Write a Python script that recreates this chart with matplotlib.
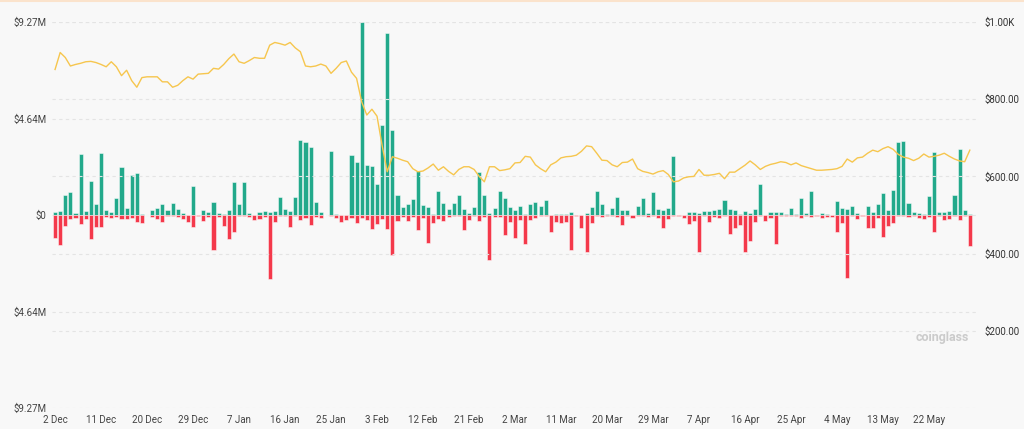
import matplotlib.pyplot as plt
import matplotlib.patches as mpatches
import matplotlib.lines as mlines
import numpy as np
import pandas as pd

plt.rcParams['font.family'] = ['Roboto', 'DejaVu Sans']

# Données (liquidations en M$, prix en $)
dates = pd.date_range('2024-12-02', periods=180, freq='D')

longs = [0.13, 0.19, 0.96, 1.09, 0.08, 2.91, 0.19, 1.63, 0.54, 2.98,
         0.22, 0.13, 0.83, 2.30, 0.32, 1.94, 2.02, 0.03, 0.02, 0.22,
         0.35, 0.51, 0.22, 0.58, 0.29, 0.10, 0.00, 1.38, 0.00, 0.22,
         0.13, 0.61, 0.10, 0.03, 0.26, 1.60, 0.51, 1.57, 0.10, 0.00,
         0.16, 0.19, 0.13, 0.19, 0.86, 0.29, 0.21, 0.88, 3.60, 3.50,
         3.25, 0.64, 0.14, 0.02, 3.09, 0.03, 0.00, 0.00, 2.88, 2.53,
         9.27, 2.42, 2.37, 1.49, 4.30, 8.72, 4.08, 0.96, 0.40, 0.53,
         0.78, 2.10, 0.46, 0.40, 0.05, 1.14, 0.56, 0.27, 0.59, 0.98,
         0.27, 0.08, 0.37, 2.06, 0.94, 0.11, 0.35, 1.17, 0.82, 0.40,
         0.26, 0.42, 0.03, 0.51, 0.64, 0.45, 0.70, 0.02, 0.06, 0.06,
         0.06, 0.13, 0.00, 0.00, 0.10, 0.38, 1.15, 0.54, 0.06, 0.32,
         0.86, 0.22, 0.22, 0.00, 0.45, 0.80, 0.10, 1.09, 0.29, 0.22,
         0.32, 2.82, 0.00, 0.00, 0.16, 0.13, 0.10, 0.19, 0.19, 0.26,
         0.29, 0.70, 0.29, 0.22, 0.03, 0.19, 0.10, 0.29, 1.47, 0.00,
         0.16, 0.13, 0.16, 0.03, 0.32, 0.03, 0.83, 0.10, 1.15, 0.00,
         0.10, 0.03, 0.00, 0.67, 0.35, 0.29, 0.42, 0.10, 0.00, 0.45,
         0.16, 0.51, 1.06, 0.22, 1.22, 3.49, 3.55, 0.58, 0.16, 0.10,
         0.06, 0.93, 3.01, 0.13, 0.16, 0.19, 0.96, 3.17, 0.26, 0.03]

shorts = [1.12, 1.44, 0.51, 0.19, 0.13, 0.43, 0.19, 1.15, 0.56, 0.56,
          0.08, 0.16, 0.08, 0.18, 0.21, 0.13, 0.35, 0.38, 0.02, 0.10,
          0.19, 0.35, 0.06, 0.06, 0.10, 0.19, 0.32, 0.58, 0.03, 0.29,
          0.10, 1.66, 0.10, 0.54, 1.15, 0.80, 0.06, 0.06, 0.10, 0.26,
          0.19, 0.10, 3.07, 0.32, 0.03, 0.05, 0.59, 0.05, 0.24, 0.16,
          0.48, 0.08, 0.13, 0.02, 0.05, 0.13, 0.32, 0.26, 0.16, 0.37,
          0.16, 0.26, 0.69, 0.45, 0.21, 0.66, 1.92, 0.27, 0.11, 0.29,
          0.08, 0.70, 0.13, 1.33, 0.40, 0.21, 0.30, 0.11, 0.05, 0.06,
          0.72, 0.24, 0.05, 0.27, 0.08, 2.16, 0.08, 0.11, 0.96, 0.32,
          1.12, 0.22, 1.41, 0.22, 0.13, 0.03, 0.03, 0.80, 0.32, 0.38,
          0.35, 1.66, 0.06, 0.61, 1.79, 0.38, 0.03, 0.10, 0.06, 0.03,
          0.10, 0.48, 0.03, 0.16, 0.06, 0.03, 0.10, 0.03, 0.13, 0.64,
          0.19, 0.03, 0.03, 0.13, 0.42, 0.29, 1.76, 0.03, 0.35, 0.10,
          0.16, 0.06, 0.90, 0.64, 0.48, 1.80, 1.25, 0.32, 0.03, 0.29,
          0.13, 1.41, 0.06, 0.03, 0.03, 0.06, 0.13, 0.03, 0.10, 0.03,
          0.13, 0.10, 0.10, 0.83, 0.38, 3.01, 0.03, 0.19, 0.06, 0.64,
          0.64, 0.13, 1.06, 0.54, 0.38, 0.03, 0.03, 0.10, 0.03, 0.16,
          0.19, 0.10, 0.83, 0.03, 0.26, 0.19, 0.03, 0.26, 0.06, 1.50]

prix = [877, 921, 908, 886, 890, 893, 897, 898, 895, 890,
        884, 897, 884, 861, 875, 848, 831, 856, 858, 858,
        858, 845, 845, 831, 836, 848, 858, 852, 865, 866,
        867, 880, 878, 890, 905, 917, 897, 893, 900, 908,
        906, 906, 940, 947, 944, 940, 947, 933, 923, 886,
        884, 886, 891, 886, 867, 880, 895, 899, 870, 854,
        793, 759, 774, 756, 680, 612, 651, 647, 642, 638,
        620, 612, 614, 622, 632, 616, 625, 613, 604, 618,
        625, 625, 618, 600, 586, 625, 625, 615, 617, 620,
        635, 636, 652, 650, 630, 620, 612, 630, 637, 648,
        651, 652, 655, 665, 679, 677, 660, 642, 641, 630,
        625, 636, 637, 645, 620, 613, 610, 606, 612, 615,
        605, 586, 588, 596, 599, 600, 618, 603, 603, 605,
        608, 594, 611, 611, 620, 629, 640, 630, 618, 626,
        631, 634, 638, 636, 630, 635, 628, 624, 620, 616,
        616, 617, 618, 620, 626, 645, 637, 648, 650, 660,
        668, 664, 672, 677, 670, 657, 650, 647, 641, 647,
        658, 650, 652, 655, 660, 652, 645, 640, 638, 668]

gauche_ticks = [-9.27, -4.635, 0, 4.635, 9.27]
gauche_labels = ['$9.27M', '$4.64M', '$0', '$4.64M', '$9.27M']
droite_ticks = [200, 400, 600, 800, 1000]
droite_labels = ['$200.00', '$400.00', '$600.00', '$800.00', '$1.00K']

vert = '#22a98b'
rouge = '#f4394b'
jaune = '#f6c64e'
fond = '#f8f8f8'

fig = plt.figure(figsize=(10.24, 4.29), dpi=100, facecolor=fond)
ax = fig.add_axes([52/1024, 1 - 408/429, 926/1024, 386/429])
ax.set_facecolor(fond)

x = np.arange(len(dates))
ax.bar(x, longs, width=0.8, color=vert, edgecolor=(1, 1, 1, 0.55), linewidth=0.6, zorder=3)
ax.bar(x, -np.array(shorts), width=0.8, color=rouge, edgecolor=(1, 1, 1, 0.55), linewidth=0.6, zorder=3)

ax.set_ylim(-9.27, 9.27)
ax.set_xlim(-0.6, 180.6)
ax.set_yticks(gauche_ticks)
ax.set_yticklabels(gauche_labels)
ax.grid(axis='y', color='#e4e4e4', linestyle=(0, (3, 3)), linewidth=0.8, zorder=0)

# Ticks tous les 9 jours
pos = x[::9]
ax.set_xticks(pos)
ax.set_xticklabels([f"{d.day} {d.strftime('%b')}" for d in dates[pos]])
ax.tick_params(axis='both', length=0, labelsize=7, colors='#444444')
ax.tick_params(axis='x', pad=5)
ax.tick_params(axis='y', pad=4)
for s in ax.spines.values():
    s.set_visible(False)

# Prix sur l'axe de droite
ax2 = ax.twinx()
ax2.plot(x, prix, color=jaune, linewidth=1.0, zorder=4)
ax2.set_ylim(0, 1000)
ax2.set_yticks(droite_ticks)
ax2.set_yticklabels(droite_labels)
ax2.grid(axis='y', color='#e4e4e4', linestyle=(0, (3, 3)), linewidth=0.8)
ax2.tick_params(axis='y', length=0, labelsize=7, colors='#333333', pad=5)
for s in ax2.spines.values():
    s.set_visible(False)

# Filigrane
ax.text(0.962, 0.182, 'coinglass', transform=ax.transAxes, ha='center', va='center',
        fontsize=9, fontweight='bold', color='#cbcbcb', zorder=1)

# Légende coupée en haut (seuls les repères dépassent)
poignees = [mpatches.Patch(color=rouge), mpatches.Patch(color=vert),
            mlines.Line2D([], [], color=jaune, linewidth=1.5)]
fig.legend(poignees, ['', '', ''], loc='lower center',
           bbox_to_anchor=(0.482, 1 - 4/429), ncol=3, frameon=False, fontsize=7,
           borderpad=0, handlelength=1.2, handletextpad=0.0, columnspacing=3.58)

# Fine bordure en haut
fig.add_artist(mlines.Line2D([0, 1], [0.998, 0.998], transform=fig.transFigure,
                             color='#fbe3cc', linewidth=1.5))

fig.savefig('out.png', dpi=100, facecolor=fond)
